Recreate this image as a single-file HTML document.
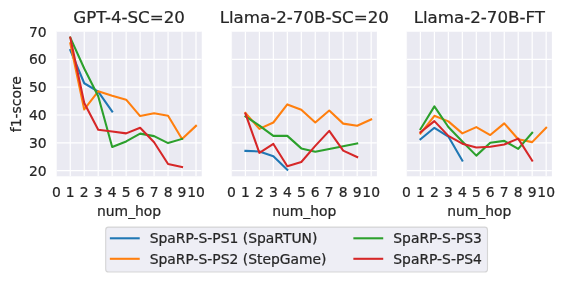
<!DOCTYPE html>
<html><head><meta charset="utf-8"><title>f1-score vs num_hop</title>
<style>
html,body{margin:0;padding:0;background:#fff;}
svg{display:block;}
text{font-family:"DejaVu Sans","Liberation Sans",sans-serif;fill:#262626;stroke:#262626;stroke-width:0.22px;}
.t{font-size:13.89px}
.h{font-size:16.67px}
</style></head>
<body>
<svg width="565" height="282" viewBox="0 0 565 282">
<rect width="565" height="282" fill="#ffffff"/>
<g>
<rect x="56.50" y="31.50" width="145.23" height="144.80" fill="#eaeaf2"/>
<clipPath id="c0"><rect x="56.50" y="31.50" width="145.23" height="144.80"/></clipPath>
<g clip-path="url(#c0)" stroke="#ffffff" stroke-width="1.20">
<line x1="56.30" y1="31.50" x2="56.30" y2="176.30"/><line x1="70.27" y1="31.50" x2="70.27" y2="176.30"/><line x1="84.24" y1="31.50" x2="84.24" y2="176.30"/><line x1="98.21" y1="31.50" x2="98.21" y2="176.30"/><line x1="112.18" y1="31.50" x2="112.18" y2="176.30"/><line x1="126.15" y1="31.50" x2="126.15" y2="176.30"/><line x1="140.12" y1="31.50" x2="140.12" y2="176.30"/><line x1="154.09" y1="31.50" x2="154.09" y2="176.30"/><line x1="168.06" y1="31.50" x2="168.06" y2="176.30"/><line x1="182.03" y1="31.50" x2="182.03" y2="176.30"/><line x1="196.00" y1="31.50" x2="196.00" y2="176.30"/>
<line x1="56.50" y1="170.65" x2="201.73" y2="170.65"/><line x1="56.50" y1="142.82" x2="201.73" y2="142.82"/><line x1="56.50" y1="114.99" x2="201.73" y2="114.99"/><line x1="56.50" y1="87.16" x2="201.73" y2="87.16"/><line x1="56.50" y1="59.33" x2="201.73" y2="59.33"/><line x1="56.50" y1="31.50" x2="201.73" y2="31.50"/>
</g>
<g clip-path="url(#c0)" fill="none" stroke-width="2.08" stroke-linejoin="round" stroke-linecap="square">
<polyline stroke="#1f77b4" points="70.27,50.01 84.24,83.26 98.21,91.61 112.18,111.51"/>
<polyline stroke="#ff7f0e" points="70.27,43.33 84.24,109.42 98.21,91.33 112.18,95.79 126.15,99.68 140.12,116.10 154.09,113.32 168.06,115.82 182.03,138.92 196.00,125.84"/>
<polyline stroke="#2ca02c" points="70.27,37.62 84.24,68.51 98.21,96.34 112.18,146.99 126.15,141.43 140.12,133.64 154.09,136.14 168.06,143.10 182.03,138.92"/>
<polyline stroke="#d62728" points="70.27,37.62 84.24,103.02 98.21,129.74 112.18,131.41 126.15,133.36 140.12,127.79 154.09,142.26 168.06,163.97 182.03,167.03"/>
</g>
<text class="h" x="129.11" y="22.90" text-anchor="middle">GPT-4-SC=20</text>
<text class="t" x="56.30" y="196.60" text-anchor="middle">0</text><text class="t" x="70.27" y="196.60" text-anchor="middle">1</text><text class="t" x="84.24" y="196.60" text-anchor="middle">2</text><text class="t" x="98.21" y="196.60" text-anchor="middle">3</text><text class="t" x="112.18" y="196.60" text-anchor="middle">4</text><text class="t" x="126.15" y="196.60" text-anchor="middle">5</text><text class="t" x="140.12" y="196.60" text-anchor="middle">6</text><text class="t" x="154.09" y="196.60" text-anchor="middle">7</text><text class="t" x="168.06" y="196.60" text-anchor="middle">8</text><text class="t" x="182.03" y="196.60" text-anchor="middle">9</text><text class="t" x="196.00" y="196.60" text-anchor="middle">10</text>
<text class="t" x="129.11" y="215.50" text-anchor="middle">num_hop</text>
</g>
<g>
<rect x="231.65" y="31.50" width="145.23" height="144.80" fill="#eaeaf2"/>
<clipPath id="c1"><rect x="231.65" y="31.50" width="145.23" height="144.80"/></clipPath>
<g clip-path="url(#c1)" stroke="#ffffff" stroke-width="1.20">
<line x1="231.45" y1="31.50" x2="231.45" y2="176.30"/><line x1="245.42" y1="31.50" x2="245.42" y2="176.30"/><line x1="259.39" y1="31.50" x2="259.39" y2="176.30"/><line x1="273.36" y1="31.50" x2="273.36" y2="176.30"/><line x1="287.33" y1="31.50" x2="287.33" y2="176.30"/><line x1="301.30" y1="31.50" x2="301.30" y2="176.30"/><line x1="315.27" y1="31.50" x2="315.27" y2="176.30"/><line x1="329.24" y1="31.50" x2="329.24" y2="176.30"/><line x1="343.21" y1="31.50" x2="343.21" y2="176.30"/><line x1="357.18" y1="31.50" x2="357.18" y2="176.30"/><line x1="371.15" y1="31.50" x2="371.15" y2="176.30"/>
<line x1="231.65" y1="170.65" x2="376.88" y2="170.65"/><line x1="231.65" y1="142.82" x2="376.88" y2="142.82"/><line x1="231.65" y1="114.99" x2="376.88" y2="114.99"/><line x1="231.65" y1="87.16" x2="376.88" y2="87.16"/><line x1="231.65" y1="59.33" x2="376.88" y2="59.33"/><line x1="231.65" y1="31.50" x2="376.88" y2="31.50"/>
</g>
<g clip-path="url(#c1)" fill="none" stroke-width="2.08" stroke-linejoin="round" stroke-linecap="square">
<polyline stroke="#1f77b4" points="245.42,150.89 259.39,151.45 273.36,156.18 287.33,169.82"/>
<polyline stroke="#ff7f0e" points="245.42,112.90 259.39,128.91 273.36,122.50 287.33,104.41 301.30,109.70 315.27,122.50 329.24,110.54 343.21,123.62 357.18,125.70 371.15,119.44"/>
<polyline stroke="#2ca02c" points="245.42,116.38 259.39,125.57 273.36,135.86 287.33,135.86 301.30,148.39 315.27,151.73 329.24,148.94 343.21,146.16 357.18,143.38"/>
<polyline stroke="#d62728" points="245.42,113.60 259.39,152.84 273.36,143.93 287.33,166.20 301.30,162.02 315.27,145.88 329.24,130.85 343.21,150.61 357.18,157.01"/>
</g>
<text class="h" x="304.26" y="22.90" text-anchor="middle">Llama-2-70B-SC=20</text>
<text class="t" x="231.45" y="196.60" text-anchor="middle">0</text><text class="t" x="245.42" y="196.60" text-anchor="middle">1</text><text class="t" x="259.39" y="196.60" text-anchor="middle">2</text><text class="t" x="273.36" y="196.60" text-anchor="middle">3</text><text class="t" x="287.33" y="196.60" text-anchor="middle">4</text><text class="t" x="301.30" y="196.60" text-anchor="middle">5</text><text class="t" x="315.27" y="196.60" text-anchor="middle">6</text><text class="t" x="329.24" y="196.60" text-anchor="middle">7</text><text class="t" x="343.21" y="196.60" text-anchor="middle">8</text><text class="t" x="357.18" y="196.60" text-anchor="middle">9</text><text class="t" x="371.15" y="196.60" text-anchor="middle">10</text>
<text class="t" x="304.26" y="215.50" text-anchor="middle">num_hop</text>
</g>
<g>
<rect x="406.65" y="31.50" width="145.23" height="144.80" fill="#eaeaf2"/>
<clipPath id="c2"><rect x="406.65" y="31.50" width="145.23" height="144.80"/></clipPath>
<g clip-path="url(#c2)" stroke="#ffffff" stroke-width="1.20">
<line x1="406.45" y1="31.50" x2="406.45" y2="176.30"/><line x1="420.42" y1="31.50" x2="420.42" y2="176.30"/><line x1="434.39" y1="31.50" x2="434.39" y2="176.30"/><line x1="448.36" y1="31.50" x2="448.36" y2="176.30"/><line x1="462.33" y1="31.50" x2="462.33" y2="176.30"/><line x1="476.30" y1="31.50" x2="476.30" y2="176.30"/><line x1="490.27" y1="31.50" x2="490.27" y2="176.30"/><line x1="504.24" y1="31.50" x2="504.24" y2="176.30"/><line x1="518.21" y1="31.50" x2="518.21" y2="176.30"/><line x1="532.18" y1="31.50" x2="532.18" y2="176.30"/><line x1="546.15" y1="31.50" x2="546.15" y2="176.30"/>
<line x1="406.65" y1="170.65" x2="551.88" y2="170.65"/><line x1="406.65" y1="142.82" x2="551.88" y2="142.82"/><line x1="406.65" y1="114.99" x2="551.88" y2="114.99"/><line x1="406.65" y1="87.16" x2="551.88" y2="87.16"/><line x1="406.65" y1="59.33" x2="551.88" y2="59.33"/><line x1="406.65" y1="31.50" x2="551.88" y2="31.50"/>
</g>
<g clip-path="url(#c2)" fill="none" stroke-width="2.08" stroke-linejoin="round" stroke-linecap="square">
<polyline stroke="#1f77b4" points="420.42,139.20 434.39,127.79 448.36,136.56 462.33,160.63"/>
<polyline stroke="#ff7f0e" points="420.42,133.64 434.39,115.82 448.36,121.39 462.33,133.36 476.30,127.10 490.27,135.03 504.24,123.34 518.21,139.20 532.18,142.12 546.15,127.79"/>
<polyline stroke="#2ca02c" points="420.42,129.18 434.39,106.36 448.36,126.96 462.33,141.43 476.30,155.62 490.27,142.82 504.24,140.87 518.21,148.94 532.18,132.80"/>
<polyline stroke="#d62728" points="420.42,132.24 434.39,121.11 448.36,135.86 462.33,143.65 476.30,147.55 490.27,146.72 504.24,144.49 518.21,138.65 532.18,160.63"/>
</g>
<text class="h" x="479.26" y="22.90" text-anchor="middle">Llama-2-70B-FT</text>
<text class="t" x="406.45" y="196.60" text-anchor="middle">0</text><text class="t" x="420.42" y="196.60" text-anchor="middle">1</text><text class="t" x="434.39" y="196.60" text-anchor="middle">2</text><text class="t" x="448.36" y="196.60" text-anchor="middle">3</text><text class="t" x="462.33" y="196.60" text-anchor="middle">4</text><text class="t" x="476.30" y="196.60" text-anchor="middle">5</text><text class="t" x="490.27" y="196.60" text-anchor="middle">6</text><text class="t" x="504.24" y="196.60" text-anchor="middle">7</text><text class="t" x="518.21" y="196.60" text-anchor="middle">8</text><text class="t" x="532.18" y="196.60" text-anchor="middle">9</text><text class="t" x="546.15" y="196.60" text-anchor="middle">10</text>
<text class="t" x="479.26" y="215.50" text-anchor="middle">num_hop</text>
</g>
<text class="t" x="46.60" y="175.70" text-anchor="end">20</text><text class="t" x="46.60" y="147.87" text-anchor="end">30</text><text class="t" x="46.60" y="120.04" text-anchor="end">40</text><text class="t" x="46.60" y="92.21" text-anchor="end">50</text><text class="t" x="46.60" y="64.38" text-anchor="end">60</text><text class="t" x="46.60" y="36.55" text-anchor="end">70</text>
<text class="t" transform="translate(21,104.2) rotate(-90)" text-anchor="middle">f1-score</text>
<rect x="105.70" y="227.10" width="381.80" height="44.90" rx="2.8" ry="2.8" fill="#eaeaf2" fill-opacity="0.8" stroke="#cccccc" stroke-opacity="0.8" stroke-width="1.11"/>
<line x1="110.90" y1="238.30" x2="138.68" y2="238.30" stroke="#1f77b4" stroke-width="2.08" stroke-linecap="square"/><text class="t" x="149.70" y="243.15">SpaRP-S-PS1 (SpaRTUN)</text>
<line x1="110.90" y1="258.80" x2="138.68" y2="258.80" stroke="#ff7f0e" stroke-width="2.08" stroke-linecap="square"/><text class="t" x="149.70" y="263.65">SpaRP-S-PS2 (StepGame)</text>
<line x1="354.40" y1="238.30" x2="382.18" y2="238.30" stroke="#2ca02c" stroke-width="2.08" stroke-linecap="square"/><text class="t" x="393.30" y="243.15">SpaRP-S-PS3</text>
<line x1="354.40" y1="258.80" x2="382.18" y2="258.80" stroke="#d62728" stroke-width="2.08" stroke-linecap="square"/><text class="t" x="393.30" y="263.65">SpaRP-S-PS4</text>
</svg>
</body></html>
